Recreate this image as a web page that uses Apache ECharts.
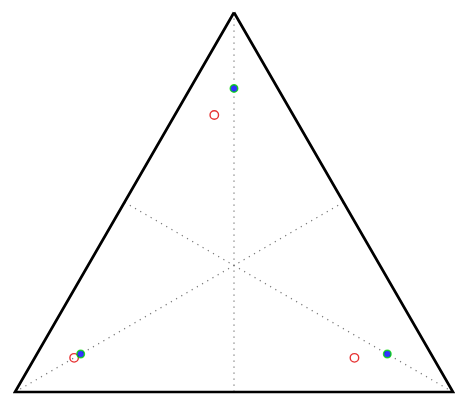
<!DOCTYPE html>
<html>
<head>
<meta charset="utf-8">
<script src="https://cdn.jsdelivr.net/npm/echarts@6/dist/echarts.min.js"></script>
<style>html,body{margin:0;padding:0;background:#fff;}#c{width:474px;height:414px;}</style>
</head>
<body>
<div id="c"></div>
<script>
// Ternary compositions: [left, right, top]
const vertices = [[0, 0, 1], [1, 0, 0], [0, 1, 0]];
const seriesBlue = [[0.1, 0.1, 0.8], [0.8, 0.1, 0.1], [0.1, 0.8, 0.1]];
const seriesRed = [[0.18, 0.09, 0.73], [0.82, 0.09, 0.09], [0.18, 0.73, 0.09]];
const medians = [
  [[0, 0, 1], [0.5, 0.5, 0]],
  [[1, 0, 0], [0, 0.5, 0.5]],
  [[0, 1, 0], [0.5, 0, 0.5]]
];
const H = Math.sqrt(3) / 2;
function toXY(t) {
  const s = t[0] + t[1] + t[2];
  const r = t[1] / s, top = t[2] / s;
  return [r + top / 2, top * H];
}
const chart = echarts.init(document.getElementById('c'));
const series = [];
medians.forEach(m => series.push({
  type: 'line', data: m.map(toXY), symbol: 'none', silent: true,
  lineStyle: { color: '#777', width: 1.2, type: [1.2, 4.8] }, z: 1
}));
series.push({
  type: 'line', data: vertices.concat([vertices[0]]).map(toXY), symbol: 'none',
  clip: false, silent: true, lineStyle: { color: '#000', width: 2.7, join: 'miter' }, z: 2
});
series.push({
  type: 'scatter', data: seriesBlue.map(toXY), symbol: 'circle', symbolSize: 7.5,
  itemStyle: { color: '#0000ff', borderColor: '#00dd00', borderWidth: 1.5 }, z: 4
});
series.push({
  type: 'scatter', data: seriesRed.map(toXY), symbol: 'circle', symbolSize: 8.5,
  itemStyle: { color: 'rgba(0,0,0,0)', borderColor: '#e00000', borderWidth: 1.4 }, z: 3
});
chart.setOption({
  animation: false,
  grid: { left: 15, right: 21, top: 12.5, bottom: 22 },
  xAxis: { type: 'value', min: 0, max: 1, show: false },
  yAxis: { type: 'value', min: 0, max: H, show: false },
  series: series
});
</script>
</body>
</html>
